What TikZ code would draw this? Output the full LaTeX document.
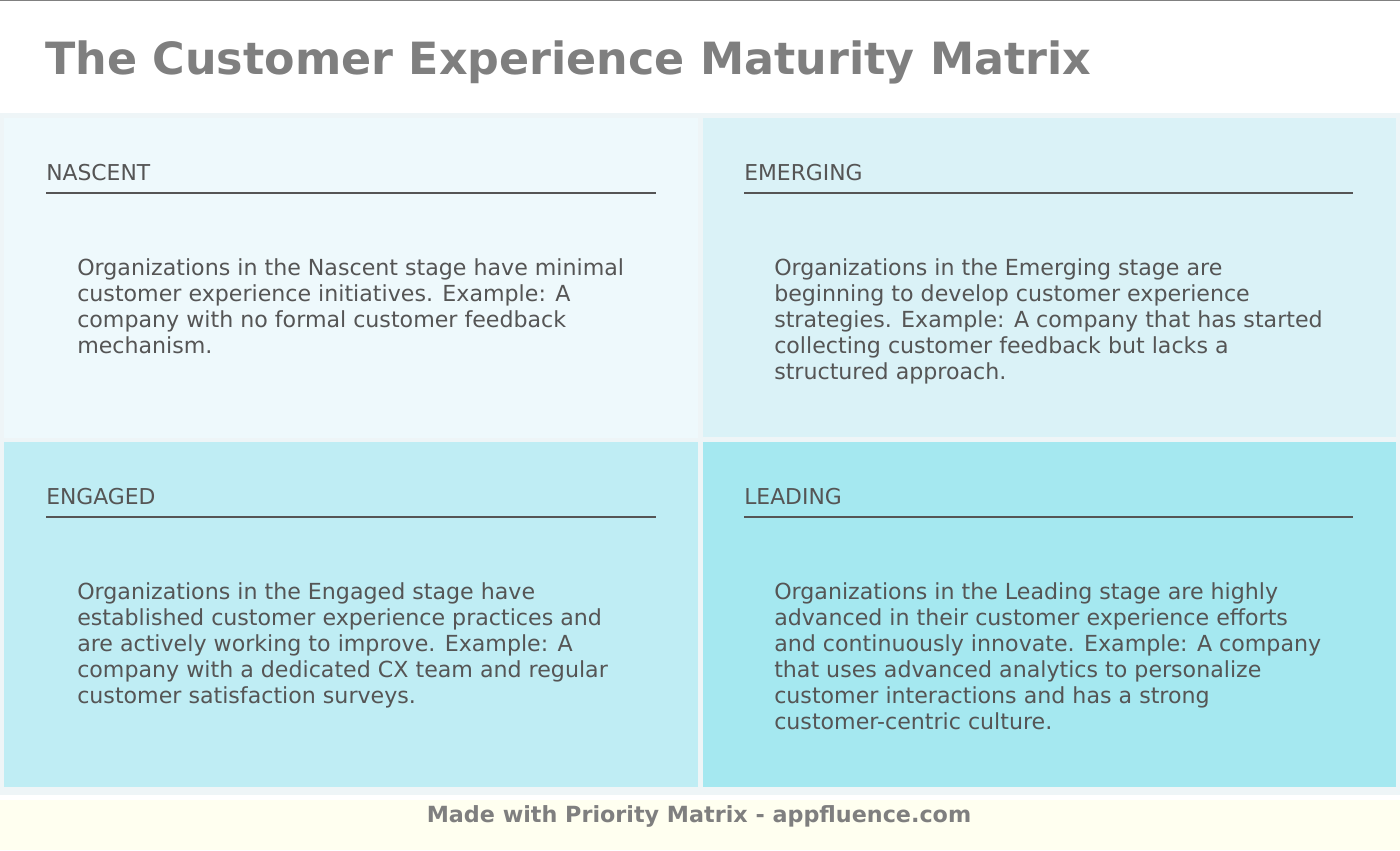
\documentclass[tikz,border=0pt]{standalone}
\usepackage{fontspec}
\setmainfont{DejaVu Sans}
\definecolor{txt}{HTML}{555555}
\definecolor{ttl}{HTML}{7F7F7F}
\definecolor{cA}{HTML}{EEF9FC}
\definecolor{cB}{HTML}{DAF2F7}
\definecolor{cC}{HTML}{BFEDF4}
\definecolor{cD}{HTML}{A5E8F0}
\definecolor{bg}{HTML}{EEF5F7}
\definecolor{foot}{HTML}{FFFFF0}
\tikzset{
 head/.style={anchor=base west,text=txt,font=\fontsize{16.4}{19}\selectfont,inner sep=0},
 body/.style={anchor=north west,text=txt,align=left,inner sep=0,font=\fontsize{16.6}{19.5}\selectfont},
 rule/.style={draw=txt,line width=0.8pt}
}
\begin{document}
\begin{tikzpicture}[x=0.75pt,y=-0.75pt]
\useasboundingbox (0,0) rectangle (1400,850);
\fill[white] (0,0) rectangle (1400,850);
\fill[bg] (0,113) rectangle (1400,795);
\draw[gray,line width=1pt] (0,0.5) -- (1400,0.5);
\fill[foot] (0,800) rectangle (1400,850);
\node[anchor=base west,text=ttl,inner sep=0,font=\fontsize{33.3}{40}\selectfont\bfseries] (title) at (45,74) {The Customer Experience Maturity Matrix};
\fill[cA] (4,118) rectangle (698,438);
\fill[cB] (703,118) rectangle (1396,437);
\fill[cC] (4,442) rectangle (698,787);
\fill[cD] (703,442) rectangle (1396,787);
% headings
\node[head] (h1) at (46,180) {NASCENT};
\node[head] (h2) at (744,180) {EMERGING};
\node[head] (h3) at (46,504) {ENGAGED};
\node[head] (h4) at (744,504) {LEADING};
\draw[rule] (46,193) -- (656,193);
\draw[rule] (744,193) -- (1353,193);
\draw[rule] (46,517) -- (656,517);
\draw[rule] (744,517) -- (1353,517);
\node[body] (b1) at (77,258) {Organizations in the Nascent stage have minimal\\customer experience initiatives. Example: A\\company with no formal customer feedback\\mechanism.};
\node[body] (b2) at (774,258) {Organizations in the Emerging stage are\\beginning to develop customer experience\\strategies. Example: A company that has started\\collecting customer feedback but lacks a\\structured approach.};
\node[body] (b3) at (77,582) {Organizations in the Engaged stage have\\established customer experience practices and\\are actively working to improve. Example: A\\company with a dedicated CX team and regular\\customer satisfaction surveys.};
\node[body] (b4) at (774,582) {Organizations in the Leading stage are highly\\advanced in their customer experience efforts\\and continuously innovate. Example: A company\\that uses advanced analytics to personalize\\customer interactions and has a strong\\customer-centric culture.};
\node[text=ttl,font=\fontsize{16.7}{19}\selectfont\bfseries,inner sep=0] (f) at (699,816) {Made with Priority Matrix - appfluence.com};
\end{tikzpicture}
\end{document}
